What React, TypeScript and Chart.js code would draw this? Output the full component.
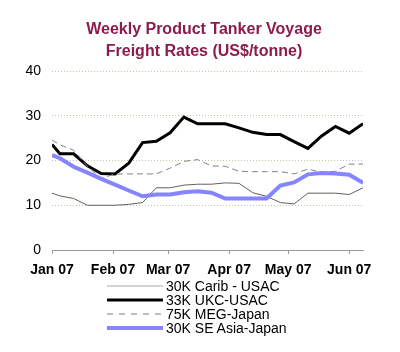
import React, { useEffect, useRef } from "react";
import { Chart, registerables } from "chart.js";

Chart.register(...registerables);

const TITLE_LINES = ["Weekly Product Tanker Voyage", "Freight Rates (US$/tonne)"];

// day offsets from 1 Jan 2007 of each weekly observation
const WEEK_DAYS = [0, 4, 11, 18, 25, 32, 39, 46, 53, 60, 67, 74, 81, 88, 95, 102, 109, 116, 123, 130, 137, 144, 151, 158];

const MONTH_DAYS = [0, 31, 59, 90, 120, 151];
const MONTH_LABELS = ["Jan 07", "Feb 07", "Mar 07", "Apr 07", "May 07", "Jun 07"];
const Y_TICKS = [0, 10, 20, 30, 40];

const SERIES_NAMES = ["30K Carib - USAC", "33K UKC-USAC", "75K MEG-Japan", "30K SE Asia-Japan"];

const CARIB_USAC = [12.7, 12.1, 11.5, 10.0, 10.0, 10.0, 10.2, 10.6, 13.9, 13.9, 14.5, 14.7, 14.7, 15.0, 14.9, 12.8, 12.0, 10.6, 10.3, 12.7, 12.7, 12.7, 12.4, 13.9];
const UKC_USAC = [23.6, 21.5, 21.5, 18.8, 17.1, 17.0, 19.4, 24.0, 24.3, 26.2, 29.7, 28.2, 28.2, 28.2, 27.3, 26.3, 25.8, 25.8, 24.2, 22.7, 25.5, 27.6, 26.1, 28.2];
const MEG_JAPAN = [24.6, 23.5, 22.3, 18.7, 16.0, 17.0, 17.0, 17.0, 17.0, 18.3, 19.8, 20.2, 18.8, 18.7, 17.6, 17.5, 17.5, 17.5, 17.0, 18.1, 17.3, 17.6, 19.2, 19.2];
const SEASIA_JAPAN = [21.2, 20.5, 18.6, 17.3, 15.9, 14.6, 13.3, 12.0, 12.4, 12.4, 12.9, 13.1, 12.8, 11.5, 11.5, 11.5, 11.5, 14.4, 15.1, 16.9, 17.2, 17.1, 16.8, 15.0];

const FONT = 'Arial, "Liberation Sans", sans-serif';
const TITLE_COLOR = "#8C1C4E";

const STYLES = [
  { color: "#606060", width: 1, dash: [] as number[], legendColor: "#a8a8a8", legendWidth: 1 },
  { color: "#000000", width: 3, dash: [] as number[], legendColor: "#000000", legendWidth: 3 },
  { color: "#808080", width: 1, dash: [6, 4], legendColor: "#808080", legendWidth: 1 },
  { color: "#8585ff", width: 4, dash: [] as number[], legendColor: "#8585ff", legendWidth: 4 },
];

export default function App() {
  const ref = useRef<HTMLCanvasElement>(null);

  useEffect(() => {
    if (!ref.current) return;
    const toPts = (vals: number[]) => WEEK_DAYS.map((d, i) => ({ x: d, y: vals[i] }));
    const all = [CARIB_USAC, UKC_USAC, MEG_JAPAN, SEASIA_JAPAN];
    const chart = new Chart(ref.current, {
      type: "line",
      data: {
        datasets: all.map((vals, i) => ({
          label: SERIES_NAMES[i],
          data: toPts(vals),
          borderColor: STYLES[i].color,
          backgroundColor: STYLES[i].color,
          borderWidth: STYLES[i].width,
          borderDash: STYLES[i].dash,
          pointRadius: 0,
          tension: 0,
          fill: false,
          order: 4 - i,
        })),
      },
      options: {
        animation: false,
        responsive: false,
        layout: { padding: { left: 0, top: 71, right: 37, bottom: 72 } },
        plugins: {
          legend: { display: false },
          title: { display: false },
          tooltip: { enabled: false },
        },
        scales: {
          x: {
            type: "linear",
            min: 0,
            max: 158,
            afterBuildTicks: (s: any) => {
              s.ticks = MONTH_DAYS.map((v) => ({ value: v }));
            },
            afterFit: (s: any) => {
              s.height = 30;
            },
            ticks: {
              autoSkip: false,
              maxRotation: 0,
              padding: 8,
              color: "#000",
              font: { family: FONT, size: 14, weight: "bold" },
              callback: (_v: any, i: number) => MONTH_LABELS[i],
            },
            grid: { display: true, drawOnChartArea: false, drawTicks: true, tickLength: 4, color: "#999" },
            border: { display: true, color: "#999", width: 1 },
          },
          y: {
            min: 0,
            max: 40,
            afterBuildTicks: (s: any) => {
              s.ticks = Y_TICKS.map((v) => ({ value: v }));
            },
            afterFit: (s: any) => {
              s.width = 52;
            },
            ticks: {
              padding: 11,
              color: "#000",
              font: { family: FONT, size: 14 },
            },
            grid: {
              drawTicks: false,
              lineWidth: 1,
              color: (ctx: any) => (ctx.tick && ctx.tick.value === 0 ? "rgba(0,0,0,0)" : "#c4c4a0"),
            },
            border: { display: false, dash: [1, 2] },
          },
        },
      } as any,
    });
    return () => chart.destroy();
  }, []);

  return (
    <div style={{ position: "absolute", left: 0, top: 0, width: 400, height: 352, background: "#fff", overflow: "hidden" }}>
      <canvas ref={ref} width={400} height={352} style={{ position: "absolute", left: 0, top: 0, width: 400, height: 352 }} />
      <div
        style={{
          position: "absolute",
          left: 4,
          top: 18,
          width: 400,
          textAlign: "center",
          fontFamily: FONT,
          fontWeight: "bold",
          fontSize: 16,
          lineHeight: "22px",
          color: TITLE_COLOR,
        }}
      >
        {TITLE_LINES.map((t) => (
          <div key={t}>{t}</div>
        ))}
      </div>
      <div style={{ position: "absolute", left: 107, top: 279, fontFamily: FONT, fontSize: 14, color: "#000" }}>
        {SERIES_NAMES.map((name, i) => (
          <div key={name} style={{ display: "flex", alignItems: "center", height: 14, lineHeight: "14px", whiteSpace: "nowrap" }}>
            <svg width={56} height={14} style={{ display: "block" }}>
              <line
                x1={0}
                y1={7}
                x2={56}
                y2={7}
                stroke={STYLES[i].legendColor}
                strokeWidth={STYLES[i].legendWidth}
                strokeDasharray={i === 2 ? "6 6" : undefined}
              />
            </svg>
            <span style={{ marginLeft: 3 }}>{name}</span>
          </div>
        ))}
      </div>
    </div>
  );
}
